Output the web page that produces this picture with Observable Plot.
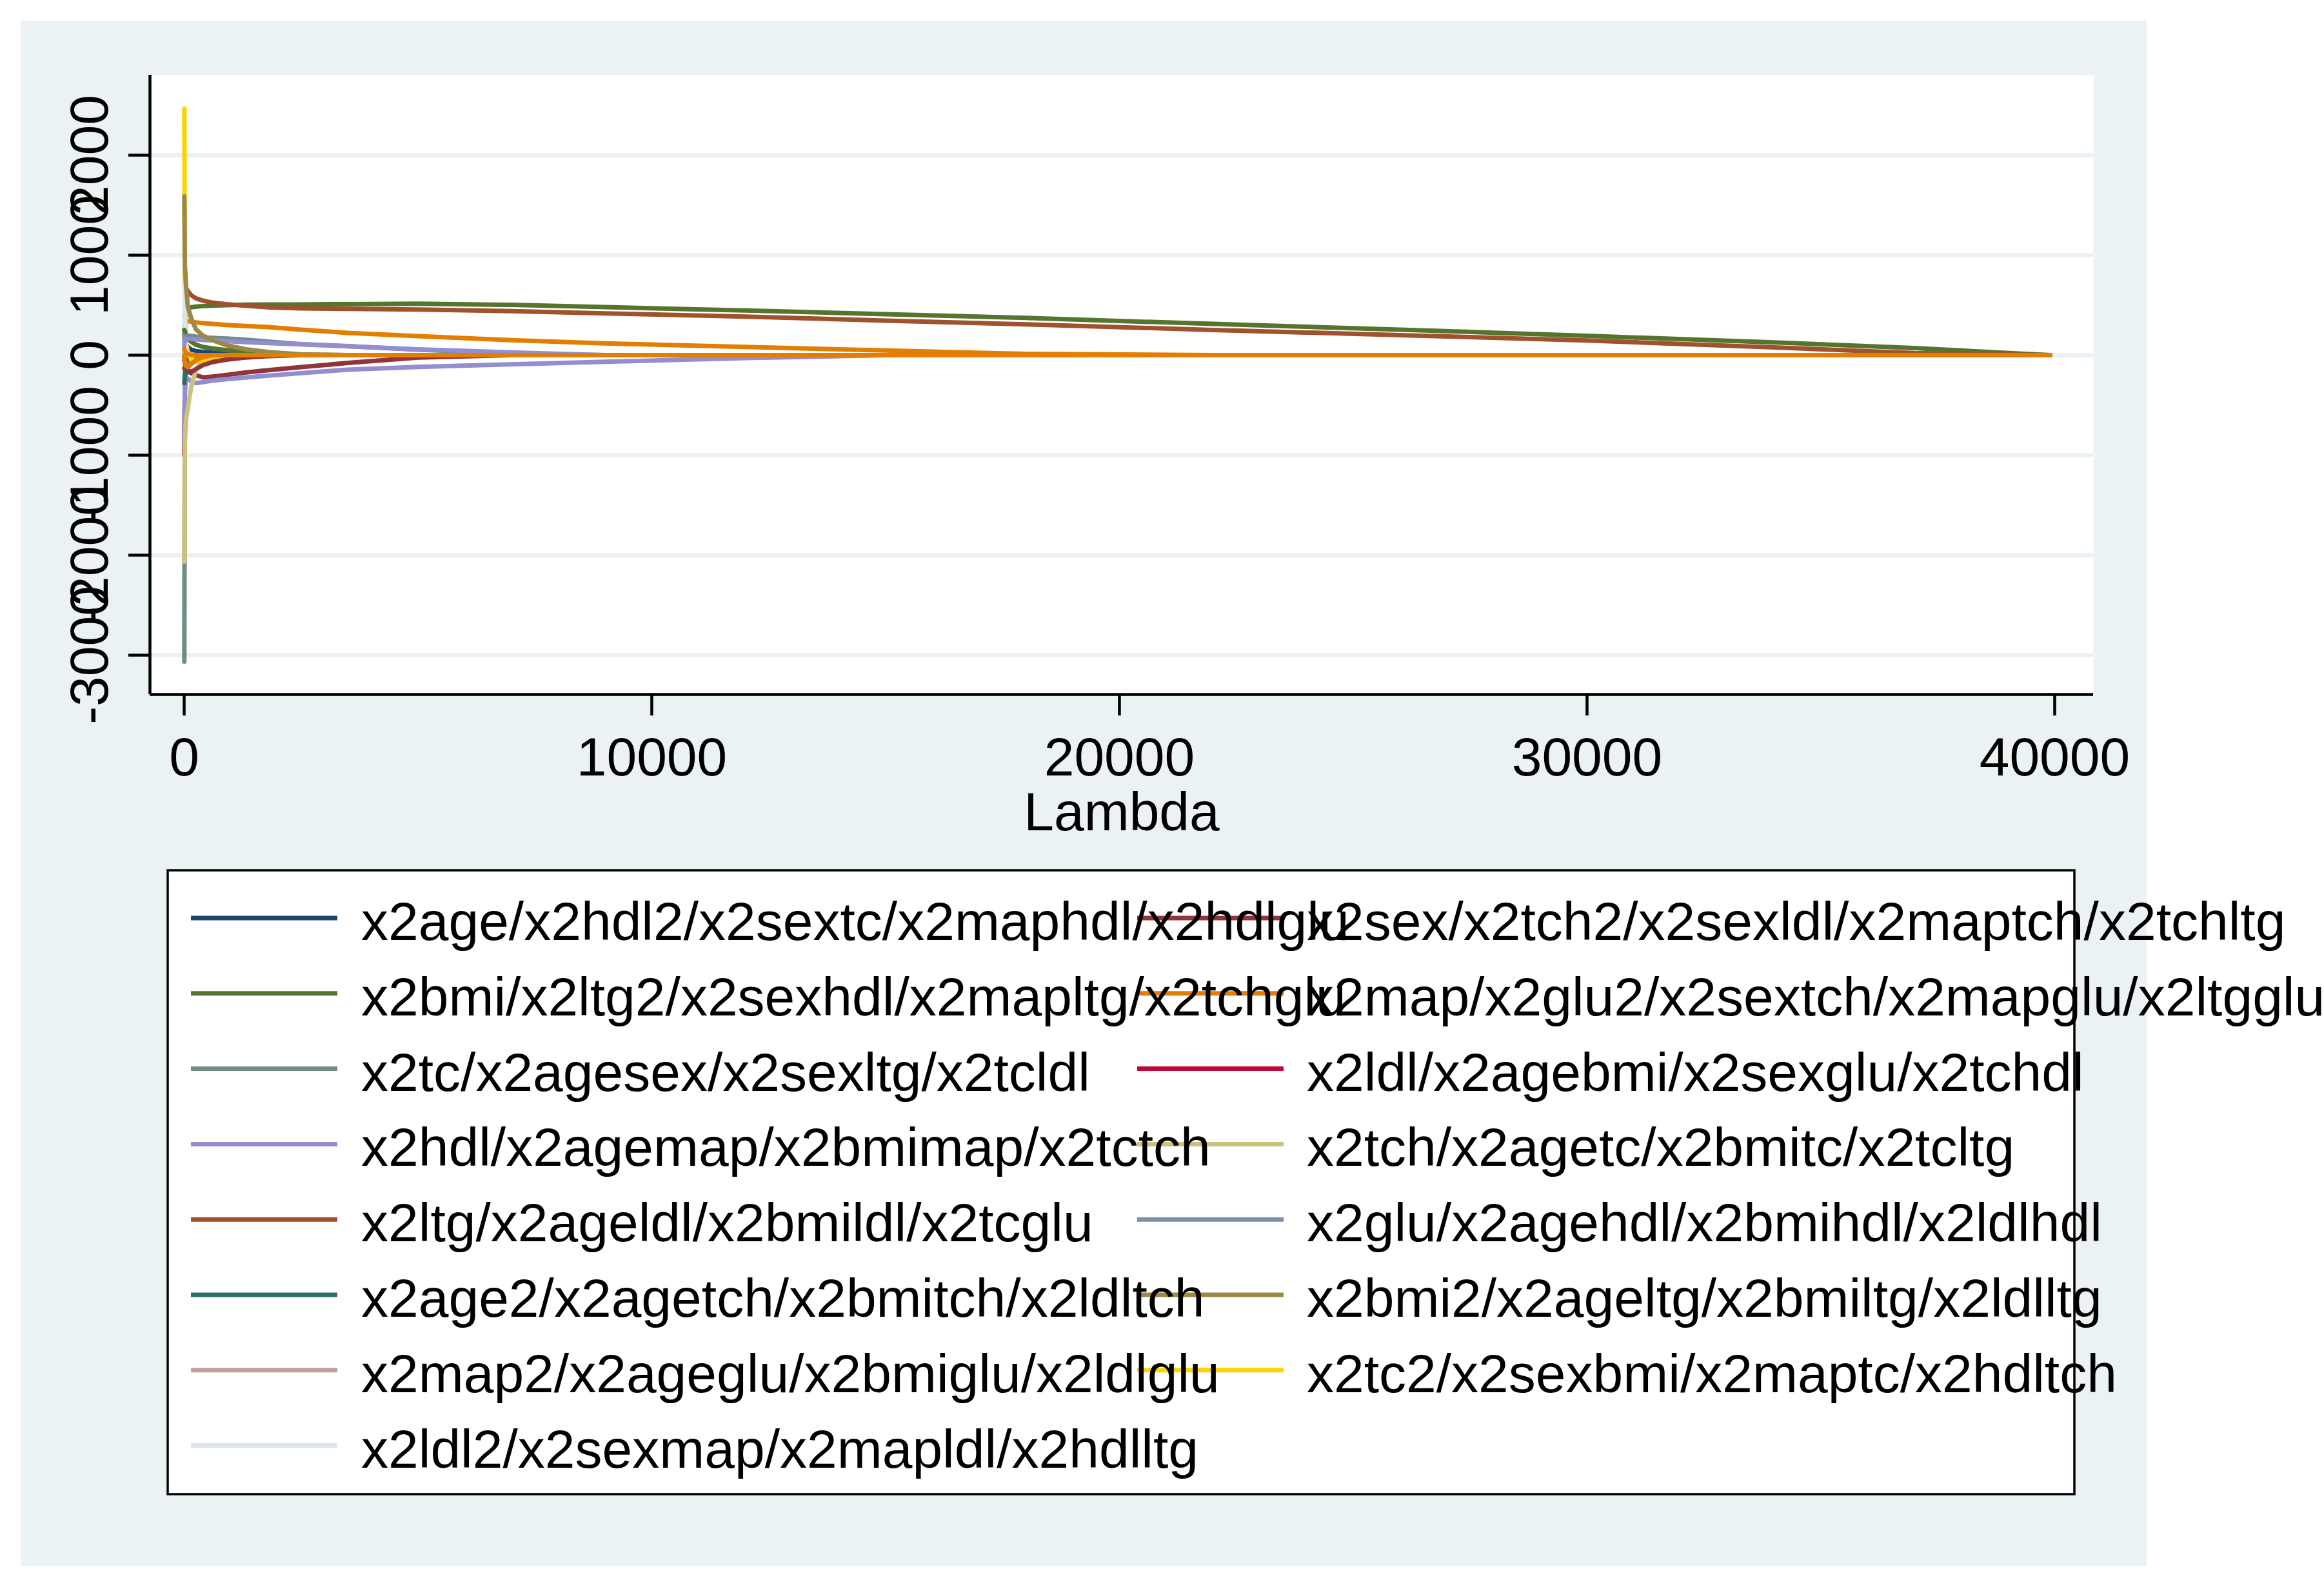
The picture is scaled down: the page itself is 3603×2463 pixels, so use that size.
<!DOCTYPE html>
<html>
<head>
<meta charset="utf-8">
<script src="https://cdn.jsdelivr.net/npm/d3@7"></script>
<script src="https://cdn.jsdelivr.net/npm/@observablehq/plot@0.6"></script>
<style>
  html, body { margin: 0; padding: 0; background: #ffffff; }
  #page { position: relative; width: 3603px; height: 2463px; overflow: hidden; font-family: "Liberation Sans", Arial, sans-serif; }
  #panel { position: absolute; left: 32px; top: 32px; width: 3296px; height: 2395px; background: #eaf2f3; }
  #chart { position: absolute; left: 0; top: 0; }
  #legend { position: absolute; left: 0; top: 1300px; }
</style>
</head>
<body>
<div id="page">
  <div id="panel"></div>
  <div id="chart"></div>
  <div id="legend"></div>
</div>
<script>
// ---- data ----
const lambda = [4, 15, 40, 80, 150, 250, 400, 600, 900, 1300, 1800, 2500, 3500, 5000, 7000, 9000, 12000, 15000, 18000, 22000, 26000, 30000, 34000, 37000, 39900];

const legendLabels = [
  "x2age/x2hdl2/x2sextc/x2maphdl/x2hdlglu",
  "x2sex/x2tch2/x2sexldl/x2maptch/x2tchltg",
  "x2bmi/x2ltg2/x2sexhdl/x2mapltg/x2tchglu",
  "x2map/x2glu2/x2sextch/x2mapglu/x2ltgglu",
  "x2tc/x2agesex/x2sexltg/x2tcldl",
  "x2ldl/x2agebmi/x2sexglu/x2tchdl",
  "x2hdl/x2agemap/x2bmimap/x2tctch",
  "x2tch/x2agetc/x2bmitc/x2tcltg",
  "x2ltg/x2ageldl/x2bmildl/x2tcglu",
  "x2glu/x2agehdl/x2bmihdl/x2ldlhdl",
  "x2age2/x2agetch/x2bmitch/x2ldltch",
  "x2bmi2/x2ageltg/x2bmiltg/x2ldlltg",
  "x2map2/x2ageglu/x2bmiglu/x2ldlglu",
  "x2tc2/x2sexbmi/x2maptc/x2hdltch",
  "x2ldl2/x2sexmap/x2mapldl/x2hdlltg"
];
const colors = ["#1a476f", "#90353b", "#55752f", "#e37e00", "#6e8e84", "#c10534", "#938dd2", "#cac27e",
                "#a0522d", "#7b92a8", "#2d6d66", "#9c8847", "#bfa19c", "#ffd200", "#d9e6eb"];

const xTicks = [0, 10000, 20000, 30000, 40000];
const yTicks = [-3000, -2000, -1000, 0, 1000, 2000];

// coefficient paths (values at each lambda)
const navy_1      = [210, 160, 110, 80, 55, 40, 32, 25, 18, 12, 5, 0, 0, 0, 0, 0, 0, 0, 0, 0, 0, 0, 0, 0, 0];
const maroon_1    = [-130, -140, -150, -165, -180, -200, -222, -215, -198, -175, -150, -120, -78, -25, 0, 0, 0, 0, 0, 0, 0, 0, 0, 0, 0];
const green_1     = [250, 330, 420, 463, 478, 485, 490, 495, 500, 505, 506, 507, 510, 514, 503, 480, 446, 410, 372, 312, 255, 193, 127, 71, 0];
const orange_1    = [390, 370, 350, 340, 335, 328, 320, 312, 302, 292, 280, 255, 222, 190, 150, 118, 82, 46, 12, 0, 0, 0, 0, 0, 0];
const teal_1      = [-3065, -400, -80, -20, 0, 0, 0, 0, 0, 0, 0, 0, 0, 0, 0, 0, 0, 0, 0, 0, 0, 0, 0, 0, 0];
const cranberry_1 = [-1000, -300, -80, -20, 0, 0, 0, 0, 0, 0, 0, 0, 0, 0, 0, 0, 0, 0, 0, 0, 0, 0, 0, 0, 0];
const lavender_1  = [-880, -320, -220, -235, -265, -280, -270, -255, -240, -225, -205, -180, -145, -118, -92, -67, -30, 0, 0, 0, 0, 0, 0, 0, 0];
const khaki_1     = [-2065, -880, -650, -520, -320, -150, -55, -30, -18, -8, 0, 0, 0, 0, 0, 0, 0, 0, 0, 0, 0, 0, 0, 0, 0];
const sienna_1    = [690, 685, 670, 640, 600, 568, 545, 525, 510, 495, 478, 468, 462, 456, 440, 418, 385, 345, 308, 252, 200, 146, 78, 20, 0];
const emidblue_1  = [-60, -70, -90, -75, -50, -30, -15, 0, 0, 0, 0, 0, 0, 0, 0, 0, 0, 0, 0, 0, 0, 0, 0, 0, 0];
const emerald_1   = [-280, -200, -40, -10, 0, 0, 0, 0, 0, 0, 0, 0, 0, 0, 0, 0, 0, 0, 0, 0, 0, 0, 0, 0, 0];
const erose_1     = [80, 30, 10, 0, 0, 0, 0, 0, 0, 0, 0, 0, 0, 0, 0, 0, 0, 0, 0, 0, 0, 0, 0, 0, 0];
const gold_1      = [2465, 700, 120, 20, -40, -65, -70, -55, -30, -10, 0, 0, 0, 0, 0, 0, 0, 0, 0, 0, 0, 0, 0, 0, 0];
const bluish_1    = [697, 250, 60, 20, 5, 0, 0, 0, 0, 0, 0, 0, 0, 0, 0, 0, 0, 0, 0, 0, 0, 0, 0, 0, 0];
const maroon_2    = [-20, -80, -120, -150, -170, -140, -100, -70, -45, -25, -10, 0, 0, 0, 0, 0, 0, 0, 0, 0, 0, 0, 0, 0, 0];
const green_2     = [250, 240, 200, 160, 135, 105, 82, 68, 50, 32, 15, 3, 0, 0, 0, 0, 0, 0, 0, 0, 0, 0, 0, 0, 0];
const orange_2    = [0, -60, -110, -120, -90, -50, -20, 0, 0, 0, 0, 0, 0, 0, 0, 0, 0, 0, 0, 0, 0, 0, 0, 0, 0];
const teal_2      = [150, 185, 195, 195, 192, 185, 178, 172, 166, 155, 135, 110, 90, 55, 18, 0, 0, 0, 0, 0, 0, 0, 0, 0, 0];
const lavender_2  = [100, 150, 165, 165, 162, 158, 152, 148, 140, 130, 120, 108, 88, 58, 28, 0, 0, 0, 0, 0, 0, 0, 0, 0, 0];
const brown_2     = [1587, 900, 700, 480, 370, 260, 195, 150, 100, 60, 30, 8, 0, 0, 0, 0, 0, 0, 0, 0, 0, 0, 0, 0, 0];
const orange_last = [60, 45, 25, 10, 3, 0, 0, 0, 0, 0, 0, 0, 0, 0, 0, 0, 0, 0, 0, 0, 0, 0, 0, 0, 0];

// drawing order: [legend index, values]
const drawOrder = [
  [0, navy_1], [1, maroon_1], [2, green_1], [3, orange_1], [4, teal_1], [5, cranberry_1],
  [6, lavender_1], [7, khaki_1], [8, sienna_1], [9, emidblue_1], [10, emerald_1], [12, erose_1],
  [13, gold_1], [14, bluish_1], [1, maroon_2], [2, green_2], [3, orange_2], [4, teal_2],
  [6, lavender_2], [11, brown_2], [3, orange_last]
];

const table = drawOrder.flatMap(([k, vals], j) =>
  lambda.map((l, i) => ({id: j, label: legendLabels[k], lambda: l, value: vals[i]})));

const FONT = "Liberation Sans, Arial, sans-serif";

const chart = Plot.plot({
  width: 3328,
  height: 1300,
  marginLeft: 232,
  marginRight: 83,
  marginTop: 116,
  marginBottom: 224,
  style: {background: "transparent", maxWidth: "none", overflow: "visible", fontFamily: FONT},
  x: {domain: [-731, 40828]},
  y: {domain: [-3394, 2800]},
  color: {domain: legendLabels, range: colors},
  marks: [
    Plot.frame({fill: "white", stroke: null}),
    Plot.ruleY(yTicks, {stroke: "#eaf2f3", strokeWidth: 7}),
    Plot.line(table, {x: "lambda", y: "value", z: "id", stroke: "label", strokeWidth: 7,
                      strokeLinecap: "round", strokeLinejoin: "round"}),
    Plot.ruleX([-731], {stroke: "black", strokeWidth: 4.5}),
    Plot.ruleY([-3394], {stroke: "black", strokeWidth: 4.5}),
    Plot.axisX({ticks: xTicks, tickSize: 33, strokeWidth: 4.5, stroke: "black", tickFormat: () => "", label: null}),
    Plot.axisY({ticks: yTicks, tickSize: 33, strokeWidth: 4.5, stroke: "black", tickFormat: () => "", label: null}),
    Plot.text(xTicks, {x: d => d, text: d => String(d), frameAnchor: "bottom", dy: 99,
                       lineAnchor: "middle", fontSize: 84, fill: "black", fontFamily: FONT}),
    Plot.text(yTicks, {y: d => d, text: d => String(d), frameAnchor: "left", dx: -92, rotate: -90,
                       textAnchor: "middle", lineAnchor: "middle", fontSize: 84, fill: "black", fontFamily: FONT}),
    Plot.text(["Lambda"], {frameAnchor: "bottom", dy: 184, lineAnchor: "middle", fontSize: 84,
                           fill: "black", fontFamily: FONT})
  ]
});
document.getElementById("chart").appendChild(chart);

// ---- legend (below the plot) ----
const lsvg = d3.select("#legend").append("svg")
  .attr("width", 3603).attr("height", 1163)
  .style("overflow", "visible").style("display", "block");
lsvg.append("rect")
  .attr("x", 260).attr("y", 49).attr("width", 2956).attr("height", 967)
  .attr("fill", "white").attr("stroke", "black").attr("stroke-width", 3.5);
const entries = legendLabels.map((lab, i) => ({lab, color: colors[i], row: Math.floor(i / 2), col: i % 2}));
lsvg.selectAll("line.sw").data(entries).join("line")
  .attr("class", "sw")
  .attr("x1", d => d.col ? 1763 : 296)
  .attr("x2", d => d.col ? 1990 : 523)
  .attr("y1", d => 123 + 116.8 * d.row)
  .attr("y2", d => 123 + 116.8 * d.row)
  .attr("stroke", d => d.color).attr("stroke-width", 7);
lsvg.selectAll("text.lt").data(entries).join("text")
  .attr("class", "lt")
  .attr("x", d => d.col ? 2026 : 560)
  .attr("y", d => 157 + 116.8 * d.row)
  .attr("font-family", FONT).attr("font-size", 84).attr("fill", "black")
  .text(d => d.lab);
</script>
</body>
</html>
